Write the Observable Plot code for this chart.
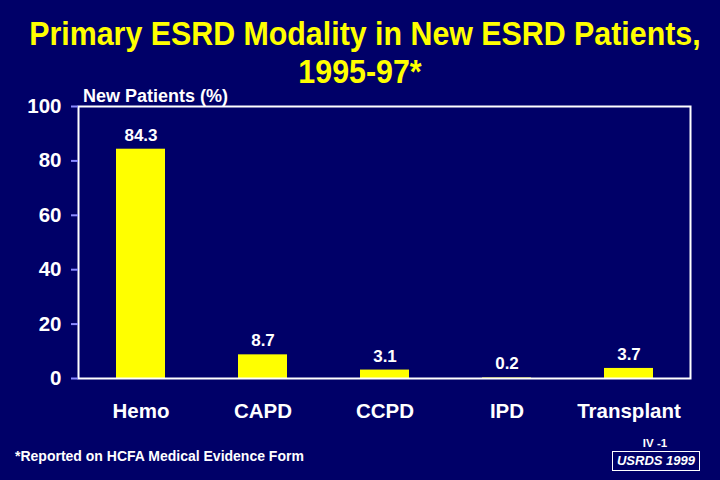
<!DOCTYPE html>
<html>
<head>
<meta charset="utf-8">
<script src="https://cdn.jsdelivr.net/npm/d3@7"></script>
<script src="https://cdn.jsdelivr.net/npm/@observablehq/plot@0.6"></script>
<style>
  html, body { margin: 0; padding: 0; background: #000068; }
  #wrap { position: relative; width: 720px; height: 480px; background: #000068; overflow: hidden;
          font-family: "Liberation Sans", Arial, Helvetica, sans-serif; color: white; }
  #chart { position: absolute; left: 0; top: 0; }
  .abs { position: absolute; white-space: nowrap; font-weight: bold; }
  #title { left: 0; width: 720px; top: 15px; text-align: center; color: #ffff00; font-size: 33px; line-height: 38px; }
  #title span { display: inline-block; transform: scaleX(0.92); transform-origin: center; }
  #ylab { left: 83px; top: 86px; font-size: 18px; line-height: 20px; }
  #foot { left: 15px; top: 448px; font-size: 14px; line-height: 16px; }
  #page { left: 618px; width: 74px; text-align: center; top: 437px; font-size: 11.5px; line-height: 13px; }
  #src { left: 612px; top: 451px; width: 86px; height: 18px; border: 1.5px solid white; font-size: 13px;
         line-height: 18px; text-align: center; font-style: italic; }
</style>
</head>
<body>
<div id="wrap">
  <div id="chart"></div>
  <div id="title" class="abs"><span>Primary ESRD Modality in New ESRD Patients,</span><br><span>1995-97*</span></div>
  <div id="ylab" class="abs">New Patients (%)</div>
  <div id="foot" class="abs">*Reported on HCFA Medical Evidence Form</div>
  <div id="page" class="abs">IV -1</div>
  <div id="src" class="abs">USRDS 1999</div>
</div>
<script>
const categories = ["Hemo", "CAPD", "CCPD", "IPD", "Transplant"];
const values = [84.3, 8.7, 3.1, 0.2, 3.7];
const yTicks = [0, 20, 40, 60, 80, 100];

const data = categories.map((c, i) => ({category: c, value: values[i]}));

const chart = Plot.plot({
  width: 720,
  height: 480,
  marginLeft: 78,
  marginRight: 30,
  marginTop: 106,
  marginBottom: 102,
  style: {
    background: "#000068",
    color: "white",
    fontFamily: "'Liberation Sans', Arial, Helvetica, sans-serif",
    overflow: "visible"
  },
  x: {domain: categories, paddingInner: 0.6, paddingOuter: 0.3},
  y: {domain: [0, 100]},
  marks: [
    Plot.barY(data, {x: "category", y: "value", fill: "#ffff00"}),
    Plot.frame({stroke: "white", strokeWidth: 2}),
    Plot.axisY({ticks: yTicks, tickSize: 7, tickPadding: 10, stroke: "#8c8cff", strokeWidth: 2,
                fill: "white", fontSize: 20.5, fontWeight: "bold", label: null}),
    Plot.axisX({tickSize: 0, tickPadding: 25, fill: "white", fontSize: 20.5, fontWeight: "bold", label: null}),
    Plot.text(data, {x: "category", y: "value", text: d => d.value.toFixed(1), dy: -14,
                     fill: "white", fontSize: 17, fontWeight: "bold"})
  ]
});
document.getElementById("chart").appendChild(chart);
</script>
</body>
</html>
